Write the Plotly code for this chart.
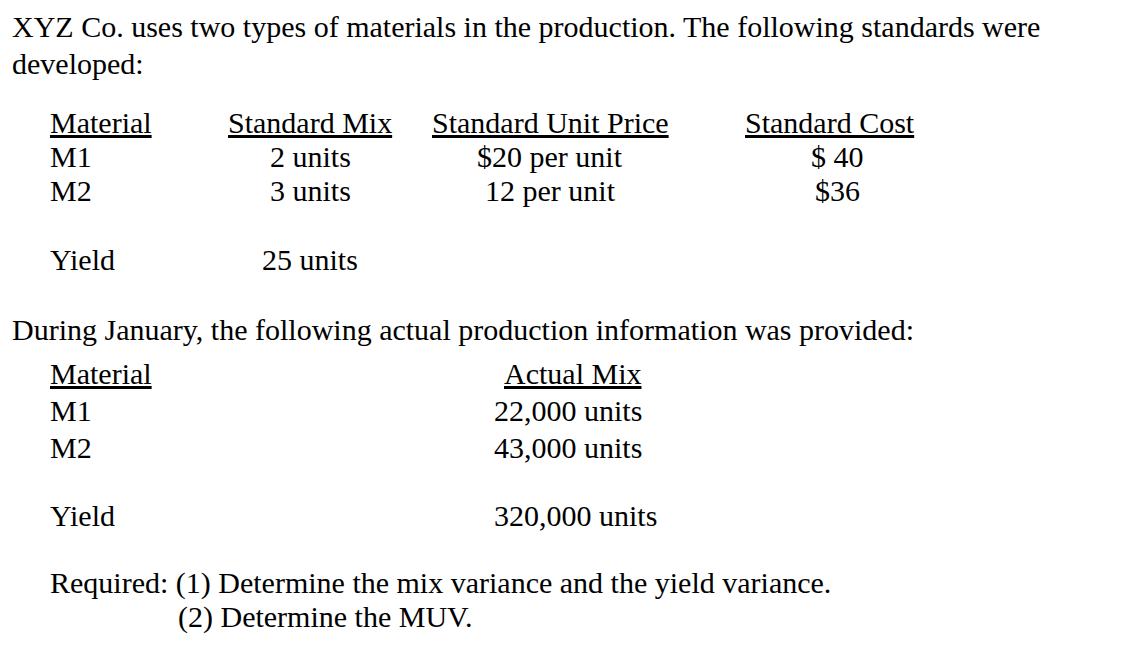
import plotly.graph_objects as go

intro = ["XYZ Co. uses two types of materials in the production. The following standards were",
         "developed:"]
std_head = ["Material", "Standard Mix", "Standard Unit Price", "Standard Cost"]
materials = ["M1", "M2"]
std_mix = ["2 units", "3 units"]
std_price = ["$20 per unit", "12 per unit"]
std_cost = ["$ 40", "$36"]
std_yield = "25 units"
mid_text = "During January, the following actual production information was provided:"
act_head = ["Material", "Actual Mix"]
act_mix = ["22,000 units", "43,000 units"]
act_yield = "320,000 units"
required = ["Required: (1) Determine the mix variance and the yield variance.",
            "(2) Determine the MUV."]

FONT = "Liberation Serif"
fig = go.Figure()
ann = []

def txt(x, y, s, anchor="left", size=30):
    ann.append(dict(x=x, y=y, text=s, showarrow=False, xanchor=anchor, yanchor="middle",
                    xshift=-10 if anchor == "left" else 0, yshift=7,
                    font=dict(family=FONT, size=size, color="black")))

txt(12, 25, intro[0])
txt(12, 62, intro[1])

col_x = [50, 302, 542, 822]
anchors = ["left", "center", "center", "center"]
for x, a, h in zip(col_x, anchors, std_head):
    txt(x, 121, "<u>" + h + "</u>", a)
for i, m in enumerate(materials):
    y = 155 + 34 * i
    txt(50, y, m)
    txt(302, y, std_mix[i], "center")
    txt(542, y, std_price[i], "center")
    txt(829, y, std_cost[i], "center")
txt(50, 258, "Yield")
txt(302, 258, std_yield, "center")

txt(12, 328, mid_text)
txt(50, 372, "<u>" + act_head[0] + "</u>")
txt(564, 372, "<u>" + act_head[1] + "</u>", "center")
for i, m in enumerate(materials):
    y = 409 + 37 * i
    txt(50, y, m)
    txt(494, y, act_mix[i])
txt(50, 514, "Yield")
txt(494, 514, act_yield)

txt(50, 582, required[0])
txt(178, 616, required[1])

fig.update_layout(
    width=1136, height=666, margin=dict(l=0, r=0, t=0, b=0),
    paper_bgcolor="white", plot_bgcolor="white", annotations=ann,
    xaxis=dict(range=[0, 1136], visible=False, fixedrange=True),
    yaxis=dict(range=[666, 0], visible=False, fixedrange=True),
    showlegend=False,
)
fig.write_html("out.html")
